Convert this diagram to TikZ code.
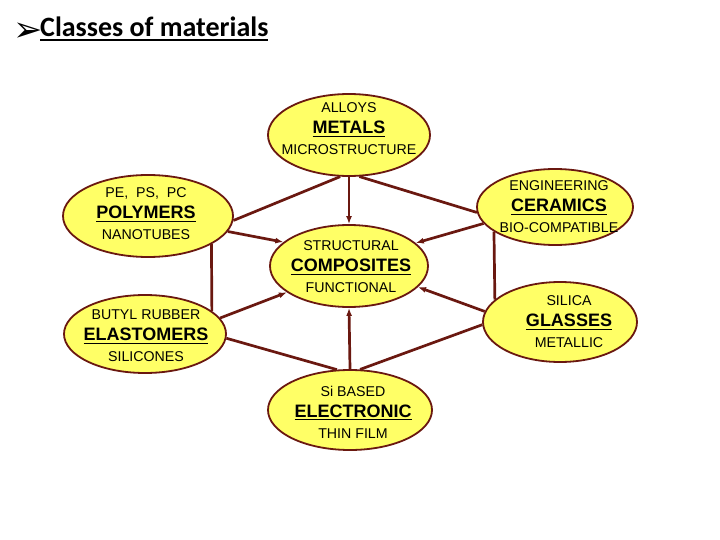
\documentclass[tikz,border=0pt]{standalone}
\usepackage{fontspec}
\setmainfont{Liberation Sans}
\newfontfamily\titlefont{Carlito}
\newfontfamily\symfont{DejaVu Sans}
\usetikzlibrary{arrows.meta,shapes.geometric}
\definecolor{fillY}{HTML}{FFFF66}
\definecolor{brownL}{HTML}{6A1810}
\newsavebox\myulbox
\newcommand\myul[3]{\sbox\myulbox{#3}\rlap{\usebox\myulbox}\rule[-#1]{\wd\myulbox}{#2}}
\newcommand\mainw[1]{{\fontsize{18}{21}\selectfont\bfseries\myul{3.2pt}{1.4pt}{#1}}}
\begin{document}
\begin{tikzpicture}[x=1pt,y=-1pt,
  ell/.style={ellipse, draw=brownL, line width=1.8pt, fill=fillY, inner sep=0pt},
  txt/.style={align=center, inner sep=0pt, font=\fontsize{14.2}{21}\selectfont},
  link/.style={draw=brownL, line width=2.7pt},
  arr/.style={link, -{Latex[length=8pt,width=6pt]}}]
\useasboundingbox[fill=white] (0,0) rectangle (720,540);

\node[anchor=base west, inner sep=0pt] (bullet) at (13,42)
  {\symfont\fontsize{35}{35}\selectfont ➢};
\node[anchor=base west, inner sep=0pt] (title) at (40,37)
  {\titlefont\bfseries\fontsize{28}{30}\selectfont\myul{4pt}{1.8pt}{Classes of materials}};

\node[ell, minimum width=162pt, minimum height=82pt] (metals) at (349,135) {};
\node[ell, minimum width=170pt, minimum height=82pt] (polymers) at (148,216) {};
\node[ell, minimum width=156pt, minimum height=76pt] (ceramics) at (555,207) {};
\node[ell, minimum width=158pt, minimum height=82pt] (composites) at (349,266) {};
\node[ell, minimum width=162pt, minimum height=78pt] (elastomers) at (145,334) {};
\node[ell, minimum width=154pt, minimum height=80pt] (glasses) at (560,322) {};
\node[ell, minimum width=164pt, minimum height=80pt] (electronic) at (350,410) {};

\node[txt] (metalsT) at (349,129) {ALLOYS\\\mainw{METALS}\\MICROSTRUCTURE};
\node[txt] (polymersT) at (146,214) {PE,\ \ PS,\ \ PC\\\mainw{POLYMERS}\\NANOTUBES};
\node[txt] (ceramicsT) at (559,207) {ENGINEERING\\\mainw{CERAMICS}\\BIO-COMPATIBLE};
\node[txt] (compositesT) at (351,267) {STRUCTURAL\\\mainw{COMPOSITES}\\FUNCTIONAL};
\node[txt] (elastomersT) at (146,336) {BUTYL RUBBER\\\mainw{ELASTOMERS}\\SILICONES};
\node[txt] (glassesT) at (569,322) {SILICA\\\mainw{GLASSES}\\METALLIC};
\node[txt] (electronicT) at (353,412) {Si BASED\\\mainw{ELECTRONIC}\\THIN FILM};

\draw[link] (metals.258) -- (polymers.-3);
\draw[link] (metals.284) -- (ceramics.184);
\draw[arr] (metals.south) -- (composites.north);
\draw[arr] (polymers.-11) -- (composites.160);
\draw[arr] (ceramics.193) -- (composites.19);
\draw[arr] (elastomers.12) -- (composites.203);
\draw[arr] (glasses.172) -- (composites.-17);
\draw[link] (polymers.-24) -- (elastomers.19.5);
\draw[link] (ceramics.202) -- (glasses.161);
\draw[link] (elastomers.-3) -- (electronic.108);
\draw[link] (glasses.182) -- (electronic.76);
\draw[arr] (electronic.north) -- (composites.south);
\end{tikzpicture}
\end{document}
